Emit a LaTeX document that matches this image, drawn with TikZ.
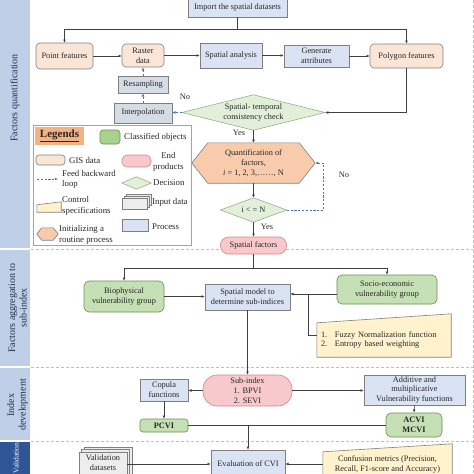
\documentclass[tikz,border=0pt]{standalone}
\usepackage{fontspec}
\setmainfont{Liberation Serif}
\usetikzlibrary{arrows.meta,backgrounds,calc}
\definecolor{procblue}{HTML}{DAE3F3}
\definecolor{interpfill}{HTML}{D6DCE5}
\definecolor{gisfill}{HTML}{FBE5D6}
\definecolor{grpfill}{HTML}{C5E0B4}
\definecolor{grpdraw}{HTML}{6A8F4E}
\definecolor{clsfill}{HTML}{A9D18E}
\definecolor{decfill}{HTML}{E2F0D9}
\definecolor{decdraw}{HTML}{9AAE8C}
\definecolor{endfill}{HTML}{F7C9CC}
\definecolor{enddraw}{HTML}{D7838A}
\definecolor{hexfill}{HTML}{F8CBAD}
\definecolor{ctrlfill}{HTML}{FFF2CC}
\definecolor{docfill}{HTML}{EDEDED}
\definecolor{bordergray}{HTML}{7F7F7F}
\definecolor{linegray}{HTML}{404040}
\definecolor{fbblue}{HTML}{4472C4}
\definecolor{legdraw}{HTML}{D98C8C}
\definecolor{legfill}{HTML}{F4B183}
\definecolor{bandfill}{HTML}{BFCFE8}
\definecolor{banddark}{HTML}{2F5597}
\definecolor{bandtext}{HTML}{1F2F4F}
\definecolor{septgray}{HTML}{BFBFBF}
\definecolor{txt}{HTML}{262626}
\newcommand\myfs{\fontsize{8.3}{9.8}\selectfont}
\newcommand\legfs{\fontsize{8.8}{10.5}\selectfont}
\newcommand\bandfs{\fontsize{10}{11.5}\selectfont}
\begin{document}
\begin{tikzpicture}[x=1pt,y=-1pt,
  box/.style={draw=bordergray, line width=0.6pt, inner sep=0.5pt, align=center, font=\myfs, text=txt},
  proc/.style={box, fill=procblue},
  gis/.style={box, fill=gisfill, rounded corners=4pt},
  grp/.style={box, fill=grpfill, draw=grpdraw, rounded corners=5pt},
  endp/.style={box, fill=endfill, draw=enddraw, rounded corners=8pt},
  free/.style={draw=none, fill=none, inner sep=0pt, align=center, font=\myfs, text=txt},
  sz/.style 2 args={minimum width=#1pt, minimum height=#2pt},
  arr/.style={-{Latex[length=3.2pt,width=2.8pt]}, line width=0.6pt, draw=linegray},
  ln/.style={line width=0.6pt, draw=linegray},
  fb/.style={-{Latex[length=3.2pt,width=2.8pt]}, line width=0.7pt, draw=fbblue, dash pattern=on 2.2pt off 1.6pt},
  decs/.style={draw=decdraw, fill=decfill, line width=0.6pt},
  hexs/.style={draw=bordergray, fill=hexfill, line width=0.6pt},
  ctrls/.style={draw=bordergray, fill=ctrlfill, line width=0.6pt},
  docs/.style={draw=bordergray, fill=docfill, line width=0.6pt},
  lbl/.style={free, font=\myfs},
  leglbl/.style={free, font=\legfs, anchor=west, align=left},
  band/.style={draw=none, fill=bandfill},
  bandlbl/.style={free, rotate=90, font=\bandfs, text=bandtext},
  sepline/.style={draw=septgray, line width=0.8pt, dash pattern=on 3pt off 2pt}]
\useasboundingbox (0,0) rectangle (474,474);
\clip (0,0) rectangle (474,474);

% side bands
\node[band, sz={30}{248}, anchor=north west] (b1) at (0,0) {};
\node[band, sz={30}{116}, anchor=north west] (b2) at (0,250) {};
\node[band, sz={30}{72}, anchor=north west] (b3) at (0,368) {};
\node[band, fill=banddark, sz={30}{34}, anchor=north west] (b4) at (0,442) {};
\node[bandlbl] (t1) at (15,98) {Factors quantification};
\node[bandlbl] (t2) at (17.5,308) {Factors aggregation to\\sub-index};
\node[bandlbl] (t3) at (17.5,405) {Index\\development};
\node[bandlbl, text=white, font=\fontsize{7.4}{8}\selectfont] (t4) at (16,458) {Validation};

% separators
\draw[sepline] (31,249) -- (473,249);
\draw[sepline] (31,367) -- (473,367);
\draw[sepline] (31,441) -- (473,441);
\draw[sepline] (473,0) -- (473,474);

% main nodes
\node[proc, sz={99}{18}] (import) at (237.5,8) {Import the spatial datasets};
\node[gis, sz={57}{26}] (point) at (64.5,56) {Point features};
\node[gis, sz={42}{23}] (raster) at (143,55.5) {Raster\\data};
\node[proc, sz={62}{25}] (spatial) at (231,55.5) {Spatial analysis};
\node[proc, sz={65}{22}] (gen) at (316.5,56) {Generate\\attributes};
\node[gis, sz={73}{24}] (poly) at (406.5,56) {Polygon features};
\node[free, sz={143}{35}] (chk) at (253.5,112.5) {Spatial- temporal\\consistency check};
\node[proc, fill=interpfill, sz={58}{20}] (interp) at (143,113) {Interpolation};
\node[proc, fill=interpfill, sz={50}{17}] (resamp) at (143,84.5) {Resampling};
\node[free, sz={123}{40}] (quant) at (253.5,163) {Quantification of\\factors,\\\textit{i} = 1, 2, 3,……, N};
\node[free, sz={66}{24}] (ichk) at (253.5,210) {i < = N};
\node[endp, sz={66}{17}] (sfac) at (253.5,245.5) {Spatial factors};
\node[grp, sz={80}{31}] (bio) at (124,296.5) {Biophysical\\vulnerability group};
\node[grp, sz={100}{29}] (socio) at (387,289.5) {Socio-economic\\vulnerability group};
\node[proc, sz={85}{26}] (model) at (247.5,297) {Spatial model to\\determine sub-indices};
\node[free, sz={134}{34}, text width=126pt, align=left] (ctrl) at (384,340) {\makebox[14pt][l]{1.}Fuzzy Normalization function\\\makebox[14pt][l]{2.}Entropy based weighting};
\node[endp, rounded corners=14pt, sz={89}{31}] (subidx) at (247.5,390.5) {Sub-index\\1. BPVI\\2. SEVI};
\node[proc, sz={48}{22}] (copula) at (164,390) {Copula\\functions};
\node[grp, rounded corners=3pt, sz={48}{13}, font=\myfs\bfseries] (pcvi) at (164,425.5) {PCVI};
\node[proc, sz={101}{30}] (add) at (414.5,390) {Additive and\\multiplicative\\Vulnerability functions};
\node[grp, sz={56}{24}, font=\myfs\bfseries] (acvi) at (414,425) {ACVI\\MCVI};
\node[proc, sz={74}{28}] (eval) at (248,464) {Evaluation of CVI};
\node[free, sz={48}{30}] (valid) at (103,467) {};
\node[free] (validT) at (103,463) {Validation\\datasets};
\node[free, sz={129}{32}] (conf) at (387.5,468) {};
\node[free] (confT) at (387.5,464.5) {Confusion metrics (Precision,\\Recall, F1-score and Accuracy)};

% labels
\node[lbl] (no1) at (185,97) {No};
\node[lbl] (yes1) at (239,133) {Yes};
\node[lbl] (no2) at (344,175) {No};
\node[lbl] (yes2) at (267,227) {Yes};

% legend
\node[draw=legdraw, line width=0.8pt, fill=none, sz={158}{120}] (leg) at (112,185) {};
\node[fill=legfill, sz={49}{18}, inner sep=0pt, font=\fontsize{11}{12}\selectfont\bfseries, text=txt] (legt) at (59.5,136) {\underline{Legends}};
\node[grp, fill=clsfill, rounded corners=3pt, sz={20}{14}] (lcls) at (110,137) {};
\node[leglbl] (lclsT) at (124,137) {Classified objects};
\node[gis, rounded corners=3pt, sz={29}{10}] (lgis) at (50.5,160) {};
\node[leglbl] (lgisT) at (69,160) {GIS data};
\node[endp, rounded corners=5pt, sz={29}{12}] (lend) at (136.5,161) {};
\node[leglbl, align=center] (lendT) at (153,162) {End\\products};
\coordinate (fbA) at (37,179);
\coordinate (fbB) at (58,179);
\draw[fb] (fbA) -- (fbB);
\node[leglbl] (lfbT) at (62,179.5) {Feed backward\\loop};
\node[free, sz={29}{12}] (ldec) at (136.5,183) {};
\node[leglbl] (ldecT) at (153,183) {Decision};
\node[free, sz={24}{7}] (lctrl) at (49,208.5) {};
\node[leglbl] (lctrlT) at (62,206) {Control\\specifications};
\node[free, sz={25}{11}] (ldoc) at (134.5,203.5) {};
\node[leglbl] (ldocT) at (152,202) {Input data};
\node[proc, sz={26}{12}] (lproc) at (135,225) {};
\node[leglbl] (lprocT) at (152,227) {Process};
\node[free, sz={21}{12}] (lhex) at (47.5,234) {};
\node[leglbl] (lhexT) at (59,235) {Initializing a\\routine process};

% custom shapes behind text
\begin{pgfonlayer}{background}
 \draw[decs] (chk.west) -- (chk.north) -- (chk.east) -- (chk.south) -- cycle;
 \draw[decs] (ichk.west) -- (ichk.north) -- (ichk.east) -- (ichk.south) -- cycle;
 \draw[decs] (ldec.west) -- (ldec.north) -- (ldec.east) -- (ldec.south) -- cycle;
 \draw[hexs] (quant.west) -- ($(quant.north west)+(16,0)$) -- ($(quant.north east)+(-16,0)$) -- (quant.east) -- ($(quant.south east)+(-16,0)$) -- ($(quant.south west)+(16,0)$) -- cycle;
 \draw[hexs] (lhex.west) -- ($(lhex.north west)+(5,0)$) -- ($(lhex.north east)+(-5,0)$) -- (lhex.east) -- ($(lhex.south east)+(-5,0)$) -- ($(lhex.south west)+(5,0)$) -- cycle;
 \draw[ctrls] (ctrl.south west) -- (ctrl.north west) -- ($(ctrl.north east)+(0,-9)$) -- (ctrl.south east) -- cycle;
 \draw[ctrls] (conf.south west) -- (conf.north west) -- ($(conf.north east)+(0,-8)$) -- (conf.south east) -- cycle;
 \draw[ctrls] (lctrl.south west) -- (lctrl.north west) -- ($(lctrl.north east)+(0,-3)$) -- (lctrl.south east) -- cycle;
 \foreach \d in {5,2.5,0} {
   \draw[docs] ($(valid.south west)+(\d,-\d)$) rectangle ($(valid.north east)+(\d,-\d)$);
   \draw[docs] ($(ldoc.south west)+(0.8*\d,-0.8*\d)$) rectangle ($(ldoc.north east)+(0.8*\d,-0.8*\d)$);
 }
\end{pgfonlayer}

% connectors
\coordinate (j1) at (237.5,29);
\draw[ln] (import.south) -- (j1);
\draw[arr] (j1) -| (point.north);
\draw[arr] (j1) -| (poly.north);
\draw[arr] (point.east) -- (point.east -| raster.west);
\draw[arr] (raster.east) -- (raster.east -| spatial.west);
\draw[arr] (spatial.east) -- (spatial.east -| gen.west);
\draw[arr] (gen.east) -- (gen.east -| poly.west);
\draw[arr] (poly.south) |- (chk.east);
\draw[fb] (chk.west) -- (chk.west -| interp.east);
\draw[fb] (interp.north) -- (resamp.south);
\draw[fb] (resamp.north) -- (raster.south);
\draw[arr] (chk.south) -- (quant.north);
\draw[arr] (quant.south) -- (ichk.north);
\draw[fb] (ichk.east) -- ++(37,0) |- (quant.east);
\draw[arr] (ichk.south) -- (sfac.north);
\coordinate (j2) at (253.5,268);
\draw[ln] (sfac.south) -- (j2);
\draw[arr] (j2) -| (bio.north);
\draw[arr] (j2) -| (socio.north);
\draw[arr] (bio.east) -- (bio.east -| model.west);
\coordinate (jS) at (308,294);
\draw[ln] (socio.west |- jS) -- (jS);
\draw[arr] (jS) -- (jS -| model.east);
\draw[ln] (jS) |- ($(ctrl.west)+(0,-5)$);
\draw[arr] (model.south) -- (subidx.north);
\draw[arr] (subidx.west) -- (subidx.west -| copula.east);
\draw[arr] (subidx.east) -- (subidx.east -| add.west);
\draw[arr] (copula.south) -- (pcvi.north);
\draw[arr] (add.south) -- (acvi.north);
\draw[ln] (pcvi.east) -- (pcvi.east -| acvi.west);
\coordinate (jP) at (pcvi.east -| eval.north);
\draw[arr] (jP) -- (eval.north);
\draw[arr] (valid.east |- eval.west) -- (eval.west);
\draw[arr] (conf.west |- eval.east) -- (eval.east);
\end{tikzpicture}
\end{document}
